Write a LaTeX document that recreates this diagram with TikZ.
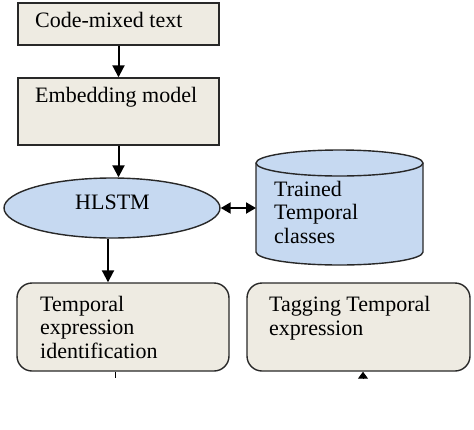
\documentclass[tikz,border=0pt]{standalone}
\usepackage{fontspec}
\setmainfont{Liberation Serif}
\usetikzlibrary{arrows.meta,shapes.geometric}
\definecolor{beige}{RGB}{238,235,226}
\definecolor{lblue}{RGB}{198,217,241}
\definecolor{edge}{RGB}{40,40,40}
\tikzset{
  boxsq/.style={draw=edge, line width=1.4pt, fill=beige, rectangle, inner sep=0pt},
  boxrd/.style={boxsq, rounded corners=15pt},
  txt/.style={inner sep=0pt, align=left, anchor=base west, font=\fontsize{22}{23.5}\selectfont},
  conn/.style={line width=2pt, -{Triangle[length=12pt,width=12pt]}},
  dconn/.style={line width=2pt, {Triangle[length=10pt,width=11pt]}-{Triangle[length=10pt,width=11pt]}}
}
\begin{document}
\begin{tikzpicture}[x=1pt,y=-1pt]
\useasboundingbox (0,0) rectangle (474,429);
% boxes
\node[boxsq, minimum width=201pt, minimum height=42pt] (code) at (118.5,24) {};
\node[txt] (codet) at (35,27) {Code-mixed text};
\node[boxsq, minimum width=201pt, minimum height=67pt] (emb) at (118.5,111.5) {};
\node[txt] (embt) at (35,102) {Embedding model};
\node[ellipse, draw=edge, line width=1.4pt, fill=lblue, minimum width=216pt, minimum height=60pt, inner sep=0pt] (hl) at (112,208) {};
\node[txt] (hlt) at (75,209) {HLSTM};
% cylinder
\path[draw=edge, line width=1.4pt, fill=lblue] (256,163) -- (256,252) arc[start angle=180, end angle=0, x radius=83.5, y radius=13] -- (423,163) arc[start angle=0, end angle=-180, x radius=83.5, y radius=13] -- cycle;
\draw[edge, line width=1.4pt] (256,163) arc[start angle=180, end angle=0, x radius=83.5, y radius=13];
\coordinate (cyl) at (256,208);
\node[txt] (cylt) at (274,243) {Trained\\Temporal\\classes};
% bottom boxes
\node[boxrd, minimum width=212pt, minimum height=88pt] (tei) at (123,327) {};
\node[txt] (teit) at (40,358) {Temporal\\expression\\identification};
\node[boxrd, minimum width=223pt, minimum height=88pt] (tag) at (358.5,327) {};
\node[txt] (tagt) at (269,335) {Tagging Temporal\\expression};
% connectors
\draw[conn] (code.south) -- (emb.north);
\draw[conn] (emb.south) -- (emb.south |- hl.north);
\draw[conn] (hl.south -| 108,0) -- (tei.north -| 108,0);
\draw[dconn] (hl.east) -- (cyl);
\coordinate (s1) at (115,378);
\draw[line width=1pt] (tei.south -| s1) -- (s1);
\coordinate (s2) at (363,379);
\draw[line width=1pt, -{Triangle[length=7pt,width=10pt]}] (s2) -- (tag.south -| s2);
\end{tikzpicture}
\end{document}
